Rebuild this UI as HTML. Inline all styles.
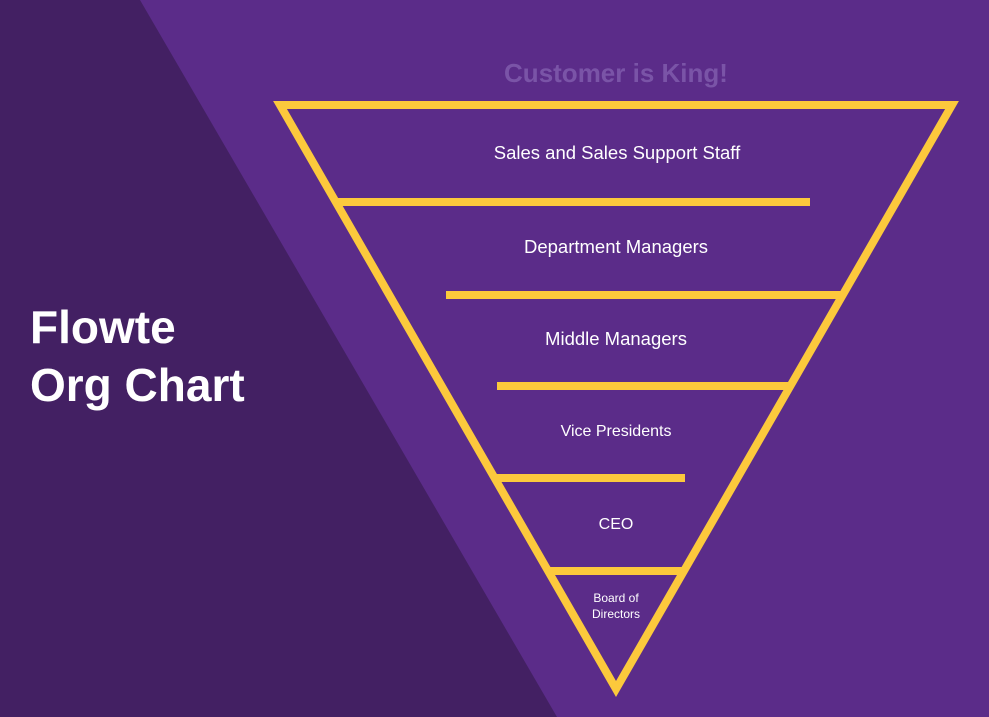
<!DOCTYPE html>
<html><head><style>
html,body{margin:0;padding:0}
body{width:989px;height:717px;overflow:hidden;background:#5b2c89;font-family:"Liberation Sans",sans-serif}
</style></head><body>
<svg width="989" height="717" viewBox="0 0 989 717" xmlns="http://www.w3.org/2000/svg" style="position:absolute;left:0;top:0">
<rect width="989" height="717" fill="#5b2c89"/>
<polygon points="0,0 140,0 557,717 0,717" fill="#432063"/>
<g stroke="#fcc93c" stroke-width="8" fill="none">
<polygon points="280,105 952,105 616,689" stroke-linejoin="miter"/>
<line x1="337" y1="202" x2="810" y2="202"/>
<line x1="446" y1="295" x2="842" y2="295"/>
<line x1="497" y1="386" x2="790" y2="386"/>
<line x1="495" y1="478" x2="685" y2="478"/>
<line x1="549" y1="571" x2="685" y2="571"/>
</g>
<g fill="#fff" text-anchor="middle" font-family="Liberation Sans, sans-serif">
<text x="616" y="82" font-size="26" font-weight="bold" fill="#7a54a7">Customer is King!</text>
<text x="617" y="159" font-size="18.5">Sales and Sales Support Staff</text>
<text x="616" y="253" font-size="18.5">Department Managers</text>
<text x="616" y="345" font-size="18.5">Middle Managers</text>
<text x="616" y="436" font-size="16">Vice Presidents</text>
<text x="616" y="529" font-size="16">CEO</text>
<text x="616" y="602" font-size="12">Board of</text>
<text x="616" y="618" font-size="12">Directors</text>
</g>
<g fill="#fff" font-size="46" font-weight="bold" font-family="Liberation Sans, sans-serif">
<text x="30" y="343">Flowte</text>
<text x="30" y="401">Org Chart</text>
</g>
</svg>
</body></html>
